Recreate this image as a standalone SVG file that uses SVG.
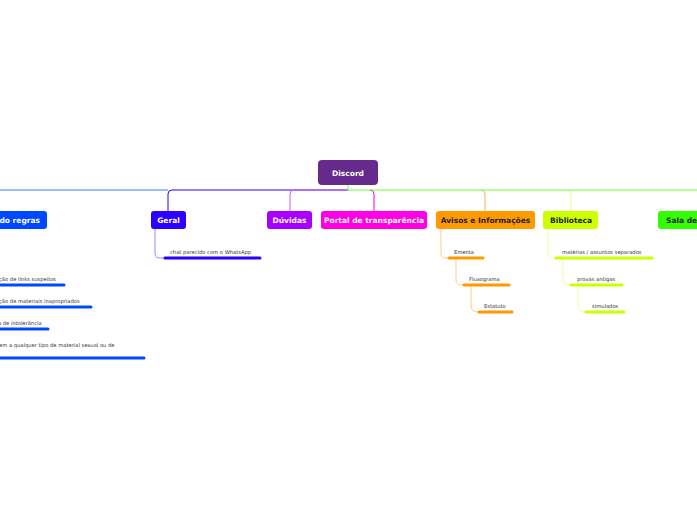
<svg xmlns="http://www.w3.org/2000/svg" width="697" height="520" viewBox="0 0 697 520">
<style>
.t{font-family:"DejaVu Sans",Verdana,sans-serif;font-weight:bold;font-size:7.5px}
.s{font-family:"DejaVu Sans",Verdana,sans-serif;font-size:5.2px;fill:#333}
.c{fill:none;stroke-width:1}
.u{stroke-width:3;stroke-linecap:round}
</style>
<rect width="697" height="520" fill="#fff"/>
<g id="connectors">
<path class="c" d="M168 211 V194 Q168 190 172 190 H348" stroke="#2d00ff"/>
<path class="c" d="M290 211 V194 Q290 190 294 190 H348" stroke="#c060ff"/>
<path class="c" d="M374 211 V194 Q374 190 370 190" stroke="#ff00e6"/>
<path class="c" d="M485 211 V194 Q485 190 481 190" stroke="#ffb060"/>
<path class="c" d="M571 211 V194 Q571 190 567 190" stroke="#e4ff80"/>
<path class="c" d="M0 190 H168" stroke="#3b7bff"/>
<path class="c" d="M348 190 H697" stroke="#66ff33"/>
<path class="c" d="M348 185 V190" stroke="#66ff33"/>
<path class="c" d="M155 229 V253 Q155 258 160 258 H165" stroke="#9a88ff"/>
<path class="c" d="M441 229 V253 Q441 258 446 258 H449" stroke="#ffcc88"/>
<path class="c" d="M456 258 V280 Q456 285 461 285 H464" stroke="#ffcc88"/>
<path class="c" d="M471 285 V305 Q471 312 478 312 H479" stroke="#ffcc88"/>
<path class="c" d="M548 229 V253 Q548 258 553 258 H556" stroke="#eeff99"/>
<path class="c" d="M563 258 V280 Q563 285 568 285 H571" stroke="#eeff99"/>
<path class="c" d="M578 285 V305 Q578 312 585 312 H586" stroke="#eeff99"/>
</g>
<g id="discord"><rect x="318" y="160" width="60" height="25" rx="4" fill="#662a8c"/><text class="t" x="348" y="176" text-anchor="middle" fill="#fff" font-size="8.5">Discord</text></g>
<g id="regras"><rect x="-10" y="211" width="57" height="18" rx="3" fill="#0048ff"/><text class="t" x="40" y="223" text-anchor="end" fill="#fff">ndo regras</text></g>
<g id="geral"><rect x="151" y="211" width="35" height="18" rx="3" fill="#2d00ff"/><text class="t" x="168.5" y="223" text-anchor="middle" fill="#fff">Geral</text></g>
<g id="duvidas"><rect x="267" y="211" width="45" height="18" rx="3" fill="#a800ff"/><text class="t" x="289.5" y="223" text-anchor="middle" fill="#fff">Dúvidas</text></g>
<g id="portal"><rect x="321" y="211" width="106" height="18" rx="3" fill="#ff00e6"/><text class="t" x="374" y="223" text-anchor="middle" fill="#fff">Portal de transparência</text></g>
<g id="avisos"><rect x="436" y="211" width="99" height="18" rx="3" fill="#ff9900"/><text class="t" x="485.5" y="223" text-anchor="middle" fill="#222">Avisos e Informações</text></g>
<g id="biblioteca"><rect x="543" y="211" width="55" height="18" rx="3" fill="#ccff00"/><text class="t" x="550" y="223" fill="#222">Biblioteca</text></g>
<g id="sala"><rect x="658" y="211" width="50" height="18" rx="3" fill="#33ff00"/><text class="t" x="666" y="223" fill="#222">Sala de</text></g>
<g id="geral-c"><text class="s" x="170" y="254">chat parecido com o WhatsApp</text><line class="u" x1="165" y1="258" x2="260" y2="258" stroke="#2d00ff"/></g>
<g id="r1"><text class="s" x="-1" y="281">ção de links suspeitos</text><line class="u" x1="-5" y1="285" x2="64" y2="285" stroke="#0048ff"/></g>
<g id="r2"><text class="s" x="-1" y="303">ção de materiais inapropriados</text><line class="u" x1="-5" y1="307" x2="91" y2="307" stroke="#0048ff"/></g>
<g id="r3"><text class="s" x="-2" y="325">a de intolerância</text><line class="u" x1="-5" y1="329" x2="48" y2="329" stroke="#0048ff"/></g>
<g id="r4"><text class="s" x="-1" y="347">em a qualquer tipo de material sexual ou de</text><line class="u" x1="-5" y1="358" x2="144" y2="358" stroke="#0048ff"/></g>
<g id="ementa"><text class="s" x="454" y="254">Ementa</text><line class="u" x1="449" y1="258" x2="483" y2="258" stroke="#ff9900"/></g>
<g id="fluxograma"><text class="s" x="469" y="281">Fluxograma</text><line class="u" x1="464" y1="285" x2="509" y2="285" stroke="#ff9900"/></g>
<g id="estatuto"><text class="s" x="484" y="308">Estatuto</text><line class="u" x1="479" y1="312" x2="512" y2="312" stroke="#ff9900"/></g>
<g id="materias"><text class="s" x="562" y="254">matérias / assuntos separados</text><line class="u" x1="556" y1="258" x2="652" y2="258" stroke="#ccff00"/></g>
<g id="provas"><text class="s" x="577" y="281">provas antigas</text><line class="u" x1="571" y1="285" x2="622" y2="285" stroke="#ccff00"/></g>
<g id="simulados"><text class="s" x="592" y="308">simulados</text><line class="u" x1="586" y1="312" x2="624" y2="312" stroke="#ccff00"/></g>
</svg>
